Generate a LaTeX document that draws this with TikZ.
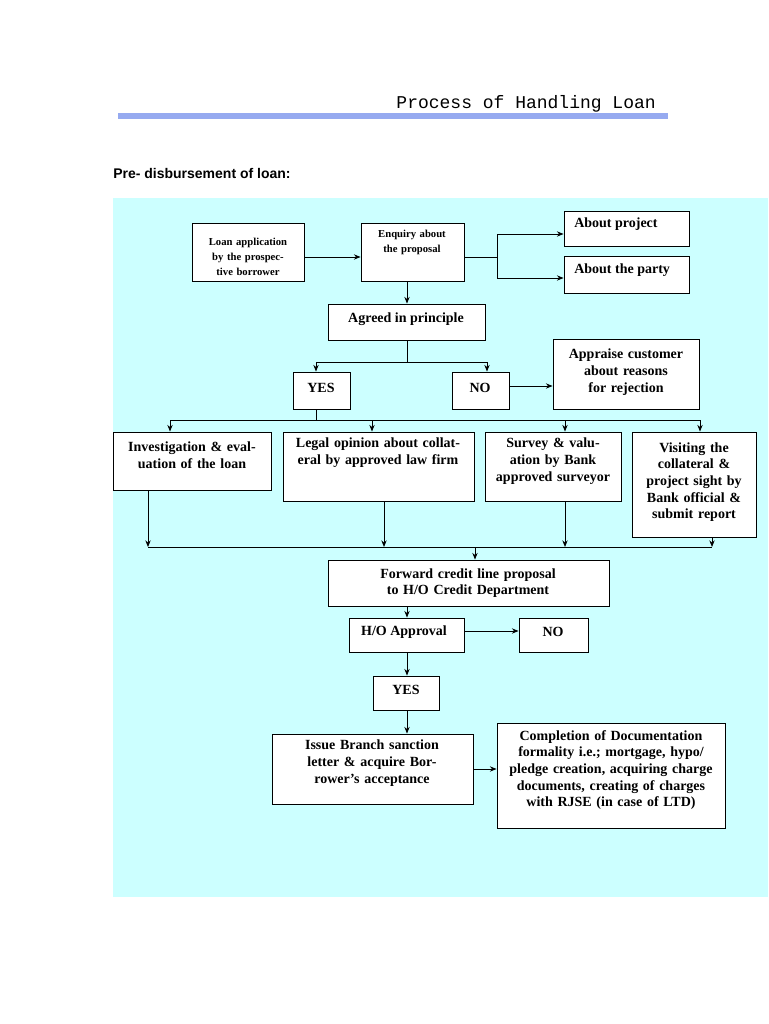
\documentclass[tikz,border=0pt]{standalone}
\usepackage{fontspec}
\setmainfont{Liberation Serif}
\newfontfamily\monof{Liberation Mono}
\newfontfamily\sansf{Liberation Sans}
\usetikzlibrary{fit,arrows.meta}
\definecolor{bgcyan}{RGB}{204,255,255}
\definecolor{tline}{RGB}{150,170,240}
\begin{document}
\begin{tikzpicture}[x=0.75pt,y=-0.75pt,
  box/.style={draw,fill=white,inner sep=0pt,line width=0.7pt},
  lbl/.style={font=\bfseries\fontsize{10.5}{12.5}\selectfont,align=center,inner sep=0pt},
  slbl/.style={font=\bfseries\fontsize{8}{11}\selectfont,align=center,inner sep=0pt},
  arr/.style={-{Stealth[length=5pt,width=4pt]},line width=0.7pt},
  ln/.style={line width=0.7pt}]
\useasboundingbox (0,0) rectangle (768,1024);
\fill[white] (0,0) rectangle (768,1024);
\node[font=\monof\fontsize{13.5}{15}\selectfont,anchor=east,inner sep=0] (title) at (656,104) {Process of Handling Loan};
\draw[tline,line width=4.5pt] (118,116) -- (668,116);
\node[font=\sansf\bfseries\fontsize{10.5}{12}\selectfont,anchor=west,inner sep=0] (pre) at (113,173) {Pre- disbursement of loan:};
\fill[bgcyan] (113,198) rectangle (768,897);
% boxes
\node[box,fit={(192,223)(304,281)}] (b1) {};
\node[slbl,text width=60pt] at (248,257) {Loan application by the prospective borrower};
\node[box,fit={(361,223)(464,281)}] (b2) {};
\node[slbl,text width=70pt,anchor=north] at (412,230) {Enquiry about the proposal};
\node[box,fit={(564,211)(689,246)}] (b3) {};
\node[lbl,anchor=north west] at (574,218) {About project};
\node[box,fit={(564,256)(689,293)}] (b4) {};
\node[lbl,anchor=north west] at (574,264) {About the party};
\node[box,fit={(328,304)(485,340)}] (b5) {};
\node[lbl] at (406,319) {Agreed in principle};
\node[box,fit={(293,372)(350,409)}] (yes1) {};
\node[lbl] at (321,388) {YES};
\node[box,fit={(452,372)(509,409)}] (no1) {};
\node[lbl] at (480,388) {NO};
\node[box,fit={(553,339)(699,409)}] (b8) {};
\node[lbl,text width=100pt] at (626,372) {Appraise customer about reasons for rejection};
\node[box,fit={(113,432)(271,490)}] (b9) {};
\node[lbl,text width=115pt] at (192,455) {Investigation \& evaluation of the loan};
\node[box,fit={(283,432)(474,501)}] (b10) {};
\node[lbl,text width=135pt,anchor=north] at (378,438) {Legal opinion about collateral by approved law firm};
\node[box,fit={(485,432)(621,501)}] (b11) {};
\node[lbl,text width=95pt,anchor=north] at (553,438) {Survey \& valuation by Bank approved surveyor};
\node[box,fit={(632,432)(756,537)}] (b12) {};
\node[lbl,text width=88pt] at (694,482) {Visiting the collateral \& project sight by Bank official \& submit report};
\node[box,fit={(328,560)(609,606)}] (b13) {};
\node[lbl,text width=200pt] at (468,583) {Forward credit line proposal to H/O Credit Department};
\node[box,fit={(349,618)(464,652)}] (b14) {};
\node[lbl] at (404,632) {H/O Approval};
\node[box,fit={(519,618)(588,652)}] (no2) {};
\node[lbl] at (553,632) {NO};
\node[box,fit={(373,676)(439,710)}] (yes2) {};
\node[lbl] at (406,690) {YES};
\node[box,fit={(272,734)(473,804)}] (b17) {};
\node[lbl,text width=140pt,anchor=north] at (372,740) {Issue Branch sanction letter \& acquire Borrower's acceptance};
\node[box,fit={(497,723)(725,828)}] (b18) {};
\node[lbl,text width=165pt,anchor=north] at (611,730) {Completion of Documentation formality i.e.; mortgage, hypo/ pledge creation, acquiring charge documents, creating of charges with RJSE (in case of LTD)};
% connectors
\draw[arr] (b1.east|-0,257) -- (b2.west|-0,257);
\coordinate (j1) at (497,257);
\draw[ln] (b2.east|-0,257) -- (j1);
\draw[arr] (j1) |- (b3.west|-0,234);
\draw[arr] (j1) |- (b4.west|-0,278);
\draw[arr] (b2.south-|407,0) -- (b5.north-|407,0);
\coordinate (j2) at (407,362);
\draw[ln] (b5.south-|407,0) -- (j2);
\draw[arr] (j2) -| (yes1.north-|316,0);
\draw[arr] (j2) -| (no1.north-|487,0);
\draw[arr] (no1.east|-0,386) -- (b8.west|-0,386);
\coordinate (j3) at (316,420);
\draw[ln] (yes1.south-|316,0) -- (j3);
\draw[arr] (j3) -| (b9.north-|170,0);
\draw[arr] (j3) -| (b10.north-|372,0);
\draw[arr] (j3) -| (b11.north-|565,0);
\draw[arr] (j3) -| (b12.north-|700,0);
\coordinate (j4) at (148,547);
\coordinate (j5) at (712,547);
\coordinate (j6) at (475,547);
\draw[ln] (j4) -- (j5);
\draw[arr] (b9.south-|148,0) -- (j4);
\draw[arr] (b10.south-|384,0) -- (384,547);
\draw[arr] (b11.south-|565,0) -- (565,547);
\draw[arr] (b12.south-|712,0) -- (j5);
\draw[arr] (j6) -- (b13.north-|475,0);
\draw[arr] (b13.south-|407,0) -- (b14.north-|407,0);
\draw[arr] (b14.east|-0,631) -- (no2.west|-0,631);
\draw[arr] (b14.south-|407,0) -- (yes2.north-|407,0);
\draw[arr] (yes2.south-|407,0) -- (b17.north-|407,0);
\draw[arr] (b17.east|-0,769) -- (b18.west|-0,769);
\end{tikzpicture}
\end{document}
